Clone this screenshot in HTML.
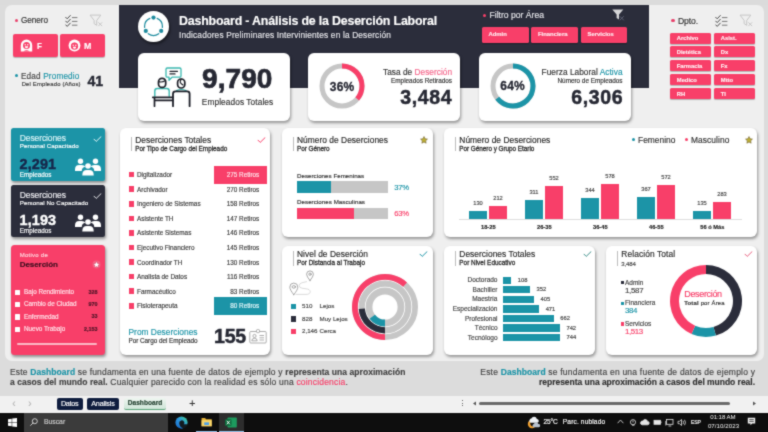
<!DOCTYPE html>
<html lang="es">
<head>
<meta charset="utf-8">
<title>Dashboard</title>
<style>
*{box-sizing:border-box;margin:0;padding:0}
html,body{width:768px;height:432px;overflow:hidden;background:#dcdcdc}
body{font-family:"Liberation Sans",sans-serif;color:#333;position:relative;font-size:7px;line-height:1}
.a{position:absolute;white-space:nowrap}
.t{-webkit-text-stroke:.15px}
body{filter:url(#sb)}
.card{position:absolute;background:#fff;border-radius:6px;box-shadow:1px 2px 3px rgba(0,0,0,.38)}
.teal{color:#1c94a7}
.pink{color:#f83f69}
b{font-weight:bold}
.fb{letter-spacing:.06px}
</style>
</head>
<body>
<svg width="0" height="0" style="position:absolute"><filter id="sb" x="0" y="0" width="100%" height="100%" color-interpolation-filters="sRGB"><feConvolveMatrix order="3" kernelMatrix="1 3 1 3 16 3 1 3 1" divisor="32" edgeMode="duplicate" preserveAlpha="true"/></filter></svg>
<div class="a" style="left:0px;top:0px;width:768px;height:5px;background:#dbdbdb;"></div>
<div class="a" style="left:5px;top:4.8px;width:758.5px;height:355.9px;background:#efefef;border-radius:7px"></div>
<div class="a" style="left:119px;top:4.7px;width:530px;height:83px;background:#2b2d3b;"></div>
<div class="a" style="left:14.5px;top:19px;width:3.4px;height:3.4px;background:#e8416b;border-radius:50%"></div>
<svg class="a" style="left:65px;top:15px" width="13" height="12" viewBox="0 0 13 12" fill="none" stroke-linecap="round" stroke-linejoin="round"><path d="M.7 2.300l1.500 1.500L5.300.5M.7 6.100l1.500 1.500L5.300 4.300M.7 9.900l1.500 1.500L5.300 8.100" stroke="#4a4a4a" stroke-width="1"/><path d="M7.300 2.600h4.700M7.300 6.400h4.700M7.300 10.200h4.700" stroke="#6a6a6a" stroke-width=".9"/></svg>
<svg class="a" style="left:89px;top:14px" width="15" height="14" viewBox="0 0 14 13" fill="none" stroke="#c4c4c4" stroke-width="0.9" stroke-linejoin="round"><path d="M1 1h10L7.2 6v4.5L4.8 9V6z"/><path d="M9 8l3 3M12 8l-3 3" stroke-linecap="round"/></svg>
<div class="a" style="left:12.5px;top:34.2px;width:45px;height:22.4px;background:#f83f69;border-radius:2px;box-shadow:0 1px 1px rgba(0,0,0,.25)"></div>
<div class="a" style="left:60px;top:34.2px;width:45px;height:22.4px;background:#f83f69;border-radius:2px;box-shadow:0 1px 1px rgba(0,0,0,.25)"></div>
<svg class="a" style="left:20.3px;top:38.6px" width="13" height="13" viewBox="0 0 13 13"><path d="M.8 12.600V6.200a5.700 5.700 0 0 1 11.400 0v6.400z" fill="#fff"/><circle cx="6.500" cy="6.600" r="3.500" fill="#f83f69"/><circle cx="5.200" cy="5.800" r=".7" fill="#fff"/><circle cx="7.800" cy="5.800" r=".7" fill="#fff"/><path d="M4.800 7.300h3.400q0 2-1.700 2t-1.700-2z" fill="#fff"/><path d="M3.300 12.600q3.200-2.600 6.400 0z" fill="#f83f69"/></svg>
<svg class="a" style="left:68px;top:38.6px" width="13" height="13" viewBox="0 0 13 13"><circle cx="6.500" cy="6.500" r="5.900" fill="#fff"/><circle cx="6.500" cy="7.200" r="3.600" fill="#f83f69"/><path d="M2.800 5.400q3.700-3.400 7.400 0q-3.700-1-7.400 0z" fill="#f83f69"/><circle cx="5.200" cy="6.300" r=".7" fill="#fff"/><circle cx="7.800" cy="6.300" r=".7" fill="#fff"/><path d="M4.800 7.800h3.400q0 2-1.700 2t-1.700-2z" fill="#fff"/></svg>
<div class="a" style="left:14.5px;top:74px;width:3.4px;height:3.4px;background:#1c94a7;border-radius:50%"></div>
<div class="a" style="left:137.8px;top:10.8px;width:30.8px;height:30.8px;background:#fff;border-radius:50%;box-shadow:1px 2px 3px rgba(0,0,0,.5)"></div>
<svg class="a" style="left:141.5px;top:15px" width="23" height="23" viewBox="0 0 23 23" fill="none" stroke="#1f8c9f" stroke-width="1.2" stroke-linecap="round"><path d="M15.12 3.37A8.9 8.9 0 0 1 20.35 12.43M16.73 18.70A8.9 8.9 0 0 1 6.27 18.70M2.65 12.43A8.9 8.9 0 0 1 7.88 3.37"/><circle cx="11.50" cy="2.60" r="2.1" fill="#1f8c9f" stroke="none"/><circle cx="19.21" cy="15.95" r="2.1" fill="#1f8c9f" stroke="none"/><circle cx="3.79" cy="15.95" r="2.1" fill="#1f8c9f" stroke="none"/></svg>
<div class="a" style="left:482.5px;top:14px;width:3.4px;height:3.4px;background:#f83f69;border-radius:50%"></div>
<svg class="a" style="left:612px;top:8.5px" width="13" height="12" viewBox="0 0 13 12"><path d="M.3.600h11L7 5.600v5L4.600 9v-3.400z" fill="#d6d6d8"/><path d="M8 7.500l3.500 3.500M11.500 7.500L8 11" stroke="#5d6072" stroke-width="1" stroke-linecap="round"/></svg>
<div class="a" style="left:481.5px;top:27px;width:47px;height:15.5px;background:#f83f69;border-radius:1.5px;box-shadow:0 1px 1px rgba(0,0,0,.3)"></div>
<div class="a" style="left:531px;top:27px;width:46.5px;height:15.5px;background:#f83f69;border-radius:1.5px;box-shadow:0 1px 1px rgba(0,0,0,.3)"></div>
<div class="a" style="left:580.5px;top:27px;width:46.5px;height:15.5px;background:#f83f69;border-radius:1.5px;box-shadow:0 1px 1px rgba(0,0,0,.3)"></div>
<div class="card" style="left:138px;top:52.5px;width:151.5px;height:68px"></div>
<div class="card" style="left:308px;top:52.5px;width:152px;height:68px"></div>
<div class="card" style="left:479px;top:52.5px;width:151.5px;height:68px"></div>
<svg class="a" style="left:151px;top:65.5px" width="42" height="42" viewBox="0 0 42 42" fill="none" stroke-linejoin="round" stroke-linecap="round">
<path d="M16.200 2h12.600a1.200 1.200 0 0 1 1.200 1.200v6.800a1.200 1.200 0 0 1-1.200 1.200h-7.800l-3 3v-3h-1.800a1.200 1.200 0 0 1-1.200-1.200v-6.800a1.200 1.200 0 0 1 1.200-1.200z" stroke="#3bb8b0" stroke-width="1.300"/>
<path d="M19 5.300h7.500M19 7.900h5" stroke="#1d1f28" stroke-width="1.300"/>
<path d="M3.800 30.300v-5.300q0-2.500 2.500-2.500h9.400q2.500 0 2.500 2.500v5.300" stroke="#3bb8b0" stroke-width="1.400"/>
<rect x="7.500" y="12.300" width="7.200" height="9" rx="3.400" stroke="#1d1f28" stroke-width="1.700"/>
<path d="M7.600 15.700q3.600 1 7-1.200" stroke="#1d1f28" stroke-width="1.200"/>
<rect x="26.600" y="13" width="7.200" height="9" rx="3.400" stroke="#1d1f28" stroke-width="1.700"/>
<path d="M30.300 13.200q-2.800 3.600 1.600 5.700" stroke="#1d1f28" stroke-width="1.200"/>
<path d="M25.500 24.600q4.800-2.200 9.600 0" stroke="#3bb8b0" stroke-width="1.200"/>
<path d="M22 40.200v-12.400q0-2.500 2.500-2.500h11.600q2.500 0 2.500 2.500v12.400" stroke="#1d1f28" stroke-width="1.800"/>
<path d="M1.800 31.300h20M3.400 34.400h18.400M3.500 31.500v8.700" stroke="#1d1f28" stroke-width="1.700"/>
</svg>
<svg class="a" style="left:317px;top:60.8px" width="50" height="50" viewBox="-25 -25 50 50"><circle r="20" fill="none" stroke="#c6c6c6" stroke-width="5"/><circle r="20" fill="none" stroke="#f83f69" stroke-width="5" stroke-dasharray="45.24 400" transform="rotate(-90)"/></svg>
<svg class="a" style="left:487.5px;top:61.3px" width="50" height="50" viewBox="-25 -25 50 50"><circle r="20" fill="none" stroke="#c6c6c6" stroke-width="5"/><circle r="20" fill="none" stroke="#1c94a7" stroke-width="5" stroke-dasharray="80.42 400" transform="rotate(-90)"/></svg>
<div class="a" style="left:671.3px;top:19px;width:3.4px;height:3.4px;background:#e8416b;border-radius:50%"></div>
<svg class="a" style="left:715px;top:14.500px" width="13" height="12" viewBox="0 0 13 12" fill="none" stroke-linecap="round" stroke-linejoin="round"><path d="M.7 2.300l1.500 1.500L5.300.5M.7 6.100l1.500 1.500L5.300 4.300M.7 9.900l1.500 1.500L5.300 8.100" stroke="#4a4a4a" stroke-width="1"/><path d="M7.300 2.600h4.700M7.300 6.400h4.700M7.300 10.200h4.700" stroke="#6a6a6a" stroke-width=".9"/></svg>
<svg class="a" style="left:739px;top:13.500px" width="15" height="14" viewBox="0 0 14 13" fill="none" stroke="#c4c4c4" stroke-width="0.9" stroke-linejoin="round"><path d="M1 1h10L7.200 6v4.500L4.800 9V6z"/><path d="M9 8l3 3M12 8l-3 3" stroke-linecap="round"/></svg>
<div class="a" style="left:670px;top:32.5px;width:41px;height:11px;background:#f83f69;border-radius:1.5px;box-shadow:0 1px 1px rgba(0,0,0,.25)"></div>
<div class="a" style="left:714px;top:32.5px;width:41px;height:11px;background:#f83f69;border-radius:1.5px;box-shadow:0 1px 1px rgba(0,0,0,.25)"></div>
<div class="a" style="left:670px;top:46.4px;width:41px;height:11px;background:#f83f69;border-radius:1.5px;box-shadow:0 1px 1px rgba(0,0,0,.25)"></div>
<div class="a" style="left:714px;top:46.4px;width:41px;height:11px;background:#f83f69;border-radius:1.5px;box-shadow:0 1px 1px rgba(0,0,0,.25)"></div>
<div class="a" style="left:670px;top:60.3px;width:41px;height:11px;background:#f83f69;border-radius:1.5px;box-shadow:0 1px 1px rgba(0,0,0,.25)"></div>
<div class="a" style="left:714px;top:60.3px;width:41px;height:11px;background:#f83f69;border-radius:1.5px;box-shadow:0 1px 1px rgba(0,0,0,.25)"></div>
<div class="a" style="left:670px;top:74.2px;width:41px;height:11px;background:#f83f69;border-radius:1.5px;box-shadow:0 1px 1px rgba(0,0,0,.25)"></div>
<div class="a" style="left:714px;top:74.2px;width:41px;height:11px;background:#f83f69;border-radius:1.5px;box-shadow:0 1px 1px rgba(0,0,0,.25)"></div>
<div class="a" style="left:670px;top:88.1px;width:41px;height:11px;background:#f83f69;border-radius:1.5px;box-shadow:0 1px 1px rgba(0,0,0,.25)"></div>
<div class="a" style="left:714px;top:88.1px;width:41px;height:11px;background:#f83f69;border-radius:1.5px;box-shadow:0 1px 1px rgba(0,0,0,.25)"></div>
<div class="a" style="left:11px;top:128.2px;width:94.3px;height:52.5px;background:#1c94a7;border-radius:2.5px;box-shadow:1px 2px 3px rgba(0,0,0,.4)"></div>
<svg class="a" style="left:92.5px;top:136.3px" width="9" height="6" viewBox="0 0 9 6" fill="none" stroke="#e4f6f8" stroke-width="1" stroke-linecap="round" stroke-linejoin="round"><path d="M1 3.200l2.200 2.200L8 .7"/></svg>
<svg class="a" style="left:73.5px;top:157.5px" width="28" height="18" viewBox="0 0 28 18" fill="#fff"><circle cx="6.500" cy="3.300" r="2.700"/><path d="M1 11.300q0-4.300 4.300-4.300h2.400q2.600 0 3.600 1.600q-3.300 1-3.600 4.400h-6.700z"/><circle cx="21.500" cy="3.300" r="2.700"/><path d="M27 11.300q0-4.300-4.300-4.300h-2.400q-2.600 0-3.600 1.600q3.300 1 3.600 4.400h6.700z"/><circle cx="14" cy="8" r="2.800"/><path d="M8.300 17q0-5 4.500-5h2.400q4.500 0 4.500 5v.500h-11.400z"/></svg>
<div class="a" style="left:11px;top:185.1px;width:94.3px;height:52.2px;background:#2b2d3b;border-radius:2.5px;box-shadow:1px 2px 3px rgba(0,0,0,.4)"></div>
<svg class="a" style="left:92.5px;top:193.2px" width="9" height="6" viewBox="0 0 9 6" fill="none" stroke="#e8e8ec" stroke-width="1" stroke-linecap="round" stroke-linejoin="round"><path d="M1 3.200l2.200 2.200L8 .7"/></svg>
<svg class="a" style="left:73.5px;top:214.4px" width="28" height="18" viewBox="0 0 28 18" fill="#fff"><circle cx="6.500" cy="3.300" r="2.700"/><path d="M1 11.300q0-4.300 4.300-4.300h2.400q2.600 0 3.600 1.600q-3.300 1-3.600 4.400h-6.700z"/><circle cx="21.500" cy="3.300" r="2.700"/><path d="M27 11.300q0-4.300-4.300-4.300h-2.400q-2.600 0-3.600 1.600q3.300 1 3.600 4.400h6.700z"/><circle cx="14" cy="8" r="2.800"/><path d="M8.300 17q0-5 4.500-5h2.400q4.500 0 4.500 5v.500h-11.400z"/></svg>
<div class="a" style="left:11px;top:245px;width:94.3px;height:109.5px;background:#f83f69;border-radius:3.5px;box-shadow:1px 2px 3px rgba(0,0,0,.4)"></div>
<svg class="a" style="left:92.3px;top:259.700px" width="9" height="9" viewBox="0 0 9 9"><circle cx="4.500" cy="4.500" r="4" fill="#fa5f81"/><path d="M4.500 1.300l1 2.100 2.300.3-1.700 1.600.4 2.300-2-1.100-2 1.100.4-2.300-1.700-1.600 2.300-.3z" fill="#fff" stroke="#c23a5c" stroke-width=".45"/></svg>
<div class="a" style="left:15px;top:289.59999999999997px;width:5.2px;height:5.2px;background:#fff;border-radius:.5px"></div>
<div class="a" style="left:15px;top:301.99999999999994px;width:5.2px;height:5.2px;background:#fff;border-radius:.5px"></div>
<div class="a" style="left:15px;top:314.4px;width:5.2px;height:5.2px;background:#fff;border-radius:.5px"></div>
<div class="a" style="left:15px;top:326.79999999999995px;width:5.2px;height:5.2px;background:#fff;border-radius:.5px"></div>
<div class="a" style="left:17px;top:343.4px;width:80px;height:2.1px;background:#fbb9c6;border-radius:1px"></div>
<div class="card" style="left:119.5px;top:128px;width:150.5px;height:226.5px"></div>
<div class="card" style="left:282px;top:128px;width:150.5px;height:109px"></div>
<div class="card" style="left:443.5px;top:128px;width:313px;height:109px"></div>
<div class="card" style="left:282px;top:245.5px;width:150.5px;height:109px"></div>
<div class="card" style="left:443.5px;top:245.5px;width:151.5px;height:109px"></div>
<div class="card" style="left:605.5px;top:245.5px;width:151px;height:109px"></div>
<div class="a" style="left:130.7px;top:136.8px;width:1.5px;height:14.6px;background:#bcbcbc;"></div>
<svg class="a" style="left:256.5px;top:136.5px" width="9" height="6" viewBox="0 0 9 6" fill="none" stroke="#f83f69" stroke-width="1" stroke-linecap="round" stroke-linejoin="round"><path d="M1 3.200l2.200 2.200L8 .7"/></svg>
<div class="a" style="left:214px;top:166px;width:53px;height:17.5px;background:#f83f69;"></div>
<div class="a" style="left:214px;top:297px;width:53px;height:17.5px;background:#1c94a7;"></div>
<div class="a" style="left:128.8px;top:171.79999999999998px;width:5.6px;height:5.6px;background:#f83f69;"></div>
<div class="a" style="left:128.8px;top:186.38px;width:5.6px;height:5.6px;background:#f83f69;"></div>
<div class="a" style="left:128.8px;top:200.95999999999998px;width:5.6px;height:5.6px;background:#f83f69;"></div>
<div class="a" style="left:128.8px;top:215.54px;width:5.6px;height:5.6px;background:#f83f69;"></div>
<div class="a" style="left:128.8px;top:230.11999999999998px;width:5.6px;height:5.6px;background:#f83f69;"></div>
<div class="a" style="left:128.8px;top:244.7px;width:5.6px;height:5.6px;background:#f83f69;"></div>
<div class="a" style="left:128.8px;top:259.28px;width:5.6px;height:5.6px;background:#f83f69;"></div>
<div class="a" style="left:128.8px;top:273.85999999999996px;width:5.6px;height:5.6px;background:#f83f69;"></div>
<div class="a" style="left:128.8px;top:288.44px;width:5.6px;height:5.6px;background:#f83f69;"></div>
<div class="a" style="left:128.8px;top:303.02px;width:5.6px;height:5.6px;background:#f83f69;"></div>
<svg class="a" style="left:249px;top:329px" width="18" height="15" viewBox="0 0 18 15" fill="none" stroke="#999" stroke-width=".8"><rect x=".8" y="2.500" width="16.400" height="11.500" rx="1"/><rect x="7.500" y=".6" width="3" height="3" rx=".8" fill="#fff"/><circle cx="5.500" cy="7" r="1.600"/><path d="M2.800 11.800q0-2.500 2.700-2.500t2.700 2.500zM10.500 6.500h4.500M10.500 8.800h4.500M10.500 11h4.500"/></svg>
<div class="a" style="left:292.5px;top:136.8px;width:1.5px;height:14.6px;background:#bcbcbc;"></div>
<svg class="a" style="left:419.500px;top:135.800px" width="8" height="8" viewBox="0 0 9 9"><path d="M4.500 .6l1.200 2.500 2.700.4-2 1.900.5 2.700-2.400-1.300-2.400 1.300.5-2.700-2-1.900 2.700-.4z" fill="#bcae32" stroke="#77683c" stroke-width=".7"/></svg>
<div class="a" style="left:297.2px;top:181.2px;width:90.8px;height:11.4px;background:#c6c6c6;"></div>
<div class="a" style="left:297.2px;top:181.2px;width:34px;height:11.4px;background:#1c94a7;"></div>
<div class="a" style="left:297.2px;top:207.8px;width:90.8px;height:11.4px;background:#c6c6c6;"></div>
<div class="a" style="left:297.2px;top:207.8px;width:57.3px;height:11.4px;background:#f83f69;"></div>
<div class="a" style="left:454.8px;top:136.8px;width:1.5px;height:14.6px;background:#bcbcbc;"></div>
<div class="a" style="left:631.8px;top:138.3px;width:3px;height:3px;background:#1c94a7;border-radius:50%"></div>
<div class="a" style="left:685px;top:138.3px;width:3px;height:3px;background:#f83f69;border-radius:50%"></div>
<svg class="a" style="left:744.500px;top:135.800px" width="8" height="8" viewBox="0 0 9 9"><path d="M4.500 .6l1.200 2.500 2.700.4-2 1.900.5 2.700-2.400-1.300-2.400 1.300.5-2.700-2-1.900 2.700-.4z" fill="#bcae32" stroke="#77683c" stroke-width=".7"/></svg>
<div class="a" style="left:459px;top:218.7px;width:283px;height:0.6px;background:#dedede;"></div>
<div class="a" style="left:469px;top:211.03900000000002px;width:18px;height:7.761px;background:#1c94a7;"></div>
<div class="a" style="left:489px;top:206.14360000000002px;width:18px;height:12.656400000000001px;background:#f83f69;"></div>
<div class="a" style="left:525px;top:200.2333px;width:18px;height:18.5667px;background:#1c94a7;"></div>
<div class="a" style="left:545px;top:185.84560000000002px;width:18px;height:32.9544px;background:#f83f69;"></div>
<div class="a" style="left:581px;top:198.2632px;width:18px;height:20.5368px;background:#1c94a7;"></div>
<div class="a" style="left:601px;top:184.29340000000002px;width:18px;height:34.5066px;background:#f83f69;"></div>
<div class="a" style="left:637px;top:196.89010000000002px;width:18px;height:21.9099px;background:#1c94a7;"></div>
<div class="a" style="left:657px;top:184.6516px;width:18px;height:34.1484px;background:#f83f69;"></div>
<div class="a" style="left:693px;top:210.7405px;width:18px;height:8.0595px;background:#1c94a7;"></div>
<div class="a" style="left:713px;top:201.9049px;width:18px;height:16.8951px;background:#f83f69;"></div>
<div class="a" style="left:292.5px;top:251.0px;width:1.5px;height:14.6px;background:#bcbcbc;"></div>
<svg class="a" style="left:419px;top:251px" width="9" height="6" viewBox="0 0 9 6" fill="none" stroke="#1c94a7" stroke-width="1" stroke-linecap="round" stroke-linejoin="round"><path d="M1 3.200l2.200 2.200L8 .7"/></svg>
<svg class="a" style="left:288px;top:268px" width="28" height="28" viewBox="0 0 28 28" fill="none" stroke="#8c8c8c" stroke-width=".75" stroke-linecap="round"><path d="M22 12.600q-3.400-4.300-3.400-6.300a3.400 3.400 0 0 1 6.800 0q0 2-3.400 6.300z"/><circle cx="22" cy="6.200" r="1.200"/><path d="M5.800 26.700q-4-5-4-7.600a4 4 0 0 1 8 0q0 2.600-4 7.600z"/><ellipse cx="5.800" cy="18.900" rx="1.700" ry="1.300"/><path d="M8 26.400h10q4.200 0 4.200-2.600t-4.200-3l-4-.6q-2.800-.5-2.800-2.600t2.800-2.900l4.600-1" stroke="#cfcfcf"/></svg>
<svg class="a" style="left:350px;top:272px" width="70" height="70" viewBox="350 272 70 70"><circle cx="385" cy="307" r="30.1" fill="none" stroke="#c6c6c6" stroke-width="5.8"/><path d="M385.00 340.00A33 33 0 1 1 407.00 282.40L403.13 286.72A27.2 27.2 0 1 0 385.00 334.20Z" fill="#f83f69"/><circle cx="385" cy="307" r="23.3" fill="none" stroke="#c6c6c6" stroke-width="6.2"/><path d="M385.00 333.40A26.4 26.4 0 0 1 358.68 309.03L364.86 308.55A20.2 20.2 0 0 0 385.00 327.20Z" fill="#2b2d3b"/><circle cx="385" cy="307" r="16" fill="none" stroke="#c6c6c6" stroke-width="6.8"/><path d="M385.00 326.40A19.4 19.4 0 0 1 369.57 318.76L374.98 314.64A12.6 12.6 0 0 0 385.00 319.60Z" fill="#1c94a7"/></svg>
<div class="a" style="left:291px;top:303.8px;width:5.4px;height:5.4px;background:#1c94a7;"></div>
<div class="a" style="left:291px;top:316.3px;width:5.4px;height:5.4px;background:#2b2d3b;"></div>
<div class="a" style="left:291px;top:328.8px;width:5.4px;height:5.4px;background:#f83f69;"></div>
<div class="a" style="left:454.8px;top:251.0px;width:1.5px;height:14.6px;background:#bcbcbc;"></div>
<svg class="a" style="left:582.5px;top:251px" width="9" height="6" viewBox="0 0 9 6" fill="none" stroke="#3d8f8a" stroke-width="1" stroke-linecap="round" stroke-linejoin="round"><path d="M1 3.200l2.200 2.200L8 .7"/></svg>
<div class="a" style="left:503.2px;top:276.5px;width:8.2836px;height:7.4px;background:#1c94a7;"></div>
<div class="a" style="left:503.2px;top:286.06px;width:26.9984px;height:7.4px;background:#1c94a7;"></div>
<div class="a" style="left:503.2px;top:295.62px;width:31.0635px;height:7.4px;background:#1c94a7;"></div>
<div class="a" style="left:503.2px;top:305.18px;width:36.1257px;height:7.4px;background:#1c94a7;"></div>
<div class="a" style="left:503.2px;top:314.74px;width:50.775400000000005px;height:7.4px;background:#1c94a7;"></div>
<div class="a" style="left:503.2px;top:324.3px;width:56.9114px;height:7.4px;background:#1c94a7;"></div>
<div class="a" style="left:503.2px;top:333.86px;width:57.064800000000005px;height:7.4px;background:#1c94a7;"></div>
<div class="a" style="left:616.8px;top:251.0px;width:1.5px;height:14.6px;background:#bcbcbc;"></div>
<svg class="a" style="left:744px;top:251px" width="9" height="6" viewBox="0 0 9 6" fill="none" stroke="#e8607f" stroke-width="1" stroke-linecap="round" stroke-linejoin="round"><path d="M1 3.200l2.200 2.200L8 .7"/></svg>
<svg class="a" style="left:668px;top:263.3px" width="76" height="76" viewBox="668 263.3 76 76"><path d="M706.00 265.30A36 36 0 0 1 715.92 335.91L713.44 327.25A27 27 0 0 0 706.00 274.30Z" fill="#2b2d3b"/><path d="M715.92 335.91A36 36 0 0 1 691.53 334.26L695.15 326.02A27 27 0 0 0 713.44 327.25Z" fill="#1c94a7"/><path d="M691.53 334.26A36 36 0 0 1 706.00 265.30L706.00 274.30A27 27 0 0 0 695.15 326.02Z" fill="#f83f69"/></svg>
<div class="a" style="left:620.5px;top:280.8px;width:3.5px;height:3.5px;background:#2b2d3b;"></div>
<div class="a" style="left:620.5px;top:301.5px;width:3.5px;height:3.5px;background:#1c94a7;"></div>
<div class="a" style="left:620.5px;top:322.2px;width:3.5px;height:3.5px;background:#f83f69;"></div>
<div class="a" style="left:0px;top:395.6px;width:768px;height:17px;background:#f1f1f1;"></div>
<div class="a" style="left:56.5px;top:398px;width:26.5px;height:11.5px;background:#0f1d3e;border-radius:2px"></div>
<div class="a" style="left:87px;top:398px;width:32px;height:11.5px;background:#0f1d3e;border-radius:2px"></div>
<div class="a" style="left:124px;top:397.5px;width:42px;height:12.5px;background:linear-gradient(#eef5f0,#cfe5d8);border-radius:2px;border-bottom:1.200px solid #5aa57a"></div>
<div class="a" style="left:461.5px;top:400px;width:1px;height:1px;background:#666;"></div>
<div class="a" style="left:461.5px;top:402.5px;width:1px;height:1px;background:#666;"></div>
<div class="a" style="left:461.5px;top:405px;width:1px;height:1px;background:#666;"></div>
<svg class="a" style="left:472px;top:400.500px" width="5" height="5" viewBox="0 0 5 5"><path d="M4 .5v4L1 2.500z" fill="#555"/></svg>
<div class="a" style="left:479px;top:401.5px;width:250.5px;height:3.2px;background:#6b6b6b;border-radius:2px"></div>
<svg class="a" style="left:752px;top:400.500px" width="5" height="5" viewBox="0 0 5 5"><path d="M1 .5v4L4 2.500z" fill="#555"/></svg>
<div class="a" style="left:0px;top:412.8px;width:768px;height:20px;background:#0e0e0e;"></div>
<div class="a" style="left:24px;top:412.8px;width:144px;height:20px;background:#3b3b3b;"></div>
<svg class="a" style="left:7.500px;top:417.500px" width="9" height="9" viewBox="0 0 9 9" fill="#fff"><path d="M0 1.200l3.700-.5v3.500H0zM4.200.6L9 0v4.200H4.200zM0 4.800h3.700v3.500L0 7.800zM4.200 4.800H9V9l-4.800-.6z"/></svg>
<svg class="a" style="left:29.500px;top:417.500px" width="8" height="8" viewBox="0 0 8 8" fill="none" stroke="#ddd" stroke-width=".9"><circle cx="4.800" cy="3.200" r="2.500"/><path d="M3 5L.6 7.400" stroke-linecap="round"/></svg>
<svg class="a" style="left:175px;top:415.500px" width="13" height="13" viewBox="0 0 13 13"><defs><linearGradient id="eg" x1="0" y1="1" x2="1" y2="0"><stop offset="0" stop-color="#1b6fd0"/><stop offset=".5" stop-color="#2a93dc"/><stop offset="1" stop-color="#45d98c"/></linearGradient></defs><circle cx="6.500" cy="6.500" r="6.100" fill="url(#eg)"/><path d="M4.200 7.200a2.600 2.600 0 0 1 5 -1.200q.6 1.400 -.4 2.200h4v1.500q-1.500 2.400 -4.300 2.600q-3.800 -.8 -4.300 -5.100z" fill="#101010" opacity=".92"/><path d="M2.600 8.200a4 4 0 0 0 5.600 3.900q-4.300 .2-5.600-3.900z" fill="#165fb8"/></svg>
<svg class="a" style="left:200.600px;top:417px" width="11.300" height="9.800" viewBox="0 0 12 11"><path d="M.3 1.200h4l1 1.200h6.400v8H.3z" fill="#e9b53a"/><path d="M.3 3.600h11.400v6.800H.3z" fill="#f7d56b"/><rect x="3.300" y="6" width="5.400" height="3" fill="#4da0e6"/></svg>
<div class="a" style="left:196px;top:430.7px;width:21px;height:1.3px;background:#9ec4ea;"></div>
<div class="a" style="left:219px;top:412.8px;width:24.5px;height:20px;background:#2d2d2d;"></div>
<svg class="a" style="left:225px;top:416.500px" width="12" height="11" viewBox="0 0 12 11"><rect x="2.500" y=".5" width="9.300" height="10" rx=".8" fill="#1d9b5e"/><rect x="0" y="2.300" width="6.500" height="6.500" rx=".6" fill="#0e6b3d"/><path d="M1.800 3.800l3 3.500M4.800 3.800l-3 3.500" stroke="#fff" stroke-width=".9"/></svg>
<div class="a" style="left:219px;top:430.7px;width:24.5px;height:1.3px;background:#9ec4ea;"></div>
<svg class="a" style="left:526.500px;top:414.500px" width="14" height="14" viewBox="0 0 14 14"><circle cx="5" cy="9" r="4.200" fill="#f0a030"/><circle cx="6.800" cy="8" r="3.600" fill="#101010"/><path d="M2.500 6.600a2.200 2.200 0 0 1 1.800-3 3 3 0 0 1 5.600.3 2 2 0 0 1 .5 3.900H3.500a1.500 1.500 0 0 1-1-1.200z" fill="#eef2f6"/><path d="M6.600 12.300a1.800 1.800 0 0 1 .3-3.400 2.400 2.400 0 0 1 4.500.2 1.600 1.600 0 0 1 .3 3.200z" fill="#b9c3cf"/></svg>
<svg class="a" style="left:617px;top:419px" width="7" height="5" viewBox="0 0 7 5" fill="none" stroke="#eee" stroke-width=".8"><path d="M.6 4.200L3.500 1l2.900 3.200"/></svg>
<svg class="a" style="left:629px;top:417.500px" width="60" height="9" viewBox="0 0 60 9" fill="none" stroke="#e6e6e6" stroke-width=".8"><circle cx="4" cy="4.200" r="2.600"/><path d="M4 2.500v2M3 7.200h2.500" /><path d="M13 6.800h5.500a1.700 1.700 0 0 0 0-3.400 2.400 2.400 0 0 0-4.600-.3A1.900 1.900 0 0 0 13 6.800z" fill="#e6e6e6"/><rect x="25" y="2.300" width="6.500" height="4" fill="#e6e6e6"/><path d="M32 3.500v1.600"/><rect x="37.500" y="1.500" width="6.500" height="4.800"/><path d="M39.500 8h2.800M36.800 3v4.500"/><path d="M49 3.300h1.500l2-1.800v6l-2-1.800H49zM54 2.800q1.200 1.700 0 3.400M55.500 1.800q2 2.700 0 5.400" /></svg>
<svg class="a" style="left:747px;top:417px" width="9" height="9" viewBox="0 0 9 9"><path d="M.8.800h7.400v5.800H5.200L3.500 8.200V6.600H.8z" fill="#eee"/><path d="M2.200 2.600h4.600M2.200 4.400h4.600" stroke="#111" stroke-width=".7"/></svg>
<div class="a t" style="top:17.06px;font-size:8.2px;color:#333;letter-spacing:-0.052px;left:21px;">Genero</div>
<div class="a t" style="top:40.50px;font-size:9.8px;color:#fff;font-weight:bold;left:37px;transform:scaleX(.82);transform-origin:0 0;">F</div>
<div class="a t" style="top:40.50px;font-size:9.8px;color:#fff;font-weight:bold;left:84.2px;transform:scaleX(.9);transform-origin:0 0;">M</div>
<div class="a t" style="top:72.56px;font-size:8.2px;color:#444;letter-spacing:0.157px;left:21px;">Edad <span class="teal">Promedio</span></div>
<div class="a t" style="top:82.21px;font-size:5.9px;color:#3a3a3a;letter-spacing:0.158px;left:21.7px;">Del Empleado (Años)</div>
<div class="a t" style="top:74.18px;font-size:14.2px;color:#262833;font-weight:bold;letter-spacing:-0.141px;left:87.5px;-webkit-text-stroke:.35px;">41</div>
<div class="a t" style="top:14.70px;font-size:12.4px;color:#fff;font-weight:bold;letter-spacing:-0.183px;left:179px;">Dashboard - Análisis de la Deserción Laboral</div>
<div class="a t" style="top:30.67px;font-size:8.3px;color:#e6e6ea;letter-spacing:0.165px;left:179px;">Indicadores Preliminares Intervinientes en la Deserción</div>
<div class="a t" style="top:11.32px;font-size:8.6px;color:#e6e6ea;letter-spacing:0.003px;left:489.5px;">Filtro por Área</div>
<div class="a t" style="top:32.41px;font-size:5.9px;color:#ffe9ee;font-weight:bold;left:488.5px;">Admin</div>
<div class="a t" style="top:32.41px;font-size:5.9px;color:#ffe9ee;font-weight:bold;left:538px;">Financiera</div>
<div class="a t" style="top:32.41px;font-size:5.9px;color:#ffe9ee;font-weight:bold;left:587.5px;">Servicios</div>
<div class="a t" style="top:65.10px;font-size:28px;color:#262833;font-weight:bold;letter-spacing:0.084px;left:202px;-webkit-text-stroke:.7px;">9,790</div>
<div class="a t" style="top:98.27px;font-size:8.3px;color:#333;letter-spacing:0.091px;left:201.8px;">Empleados Totales</div>
<div class="a t" style="top:81.04px;font-size:12px;color:#262833;font-weight:bold;letter-spacing:0.156px;left:192.08px;width:300px;text-align:center;-webkit-text-stroke:.3px;">36%</div>
<div class="a t" style="top:68.07px;font-size:8.3px;color:#333;letter-spacing:0.016px;right:315.98px;">Tasa de <span style="color:#f4658a">Deserción</span></div>
<div class="a t" style="top:77.98px;font-size:6.4px;color:#333;letter-spacing:-0.006px;right:316.01px;">Empleados Retirados</div>
<div class="a t" style="top:87.59px;font-size:19.5px;color:#262833;font-weight:bold;letter-spacing:0.637px;right:315.86px;-webkit-text-stroke:.5px;">3,484</div>
<div class="a t" style="top:80.24px;font-size:12px;color:#262833;font-weight:bold;letter-spacing:0.156px;left:362.58px;width:300px;text-align:center;-webkit-text-stroke:.3px;">64%</div>
<div class="a t" style="top:68.07px;font-size:8.3px;color:#333;letter-spacing:0.036px;right:145.46px;">Fuerza Laboral <span class="teal">Activa</span></div>
<div class="a t" style="top:77.98px;font-size:6.4px;color:#333;letter-spacing:-0.020px;right:145.52px;">Número de Empleados</div>
<div class="a t" style="top:87.59px;font-size:19.5px;color:#262833;font-weight:bold;letter-spacing:0.637px;right:144.86px;-webkit-text-stroke:.5px;">6,306</div>
<div class="a t" style="top:16.52px;font-size:8.6px;color:#333;letter-spacing:-0.109px;left:678px;">Dpto.</div>
<div class="a t" style="top:36.29px;font-size:5.8px;color:#fff0f3;font-weight:bold;left:676.8px;">Archivo</div>
<div class="a t" style="top:36.29px;font-size:5.8px;color:#fff0f3;font-weight:bold;left:720.8px;">Asist.</div>
<div class="a t" style="top:50.19px;font-size:5.8px;color:#fff0f3;font-weight:bold;left:676.8px;">Dietética</div>
<div class="a t" style="top:50.19px;font-size:5.8px;color:#fff0f3;font-weight:bold;left:720.8px;">Dx</div>
<div class="a t" style="top:64.09px;font-size:5.8px;color:#fff0f3;font-weight:bold;left:676.8px;">Farmacia</div>
<div class="a t" style="top:64.09px;font-size:5.8px;color:#fff0f3;font-weight:bold;left:720.8px;">Fx</div>
<div class="a t" style="top:77.99px;font-size:5.8px;color:#fff0f3;font-weight:bold;left:676.8px;">Medico</div>
<div class="a t" style="top:77.99px;font-size:5.8px;color:#fff0f3;font-weight:bold;left:720.8px;">Mtto</div>
<div class="a t" style="top:91.89px;font-size:5.8px;color:#fff0f3;font-weight:bold;left:676.8px;">RH</div>
<div class="a t" style="top:91.89px;font-size:5.8px;color:#fff0f3;font-weight:bold;left:720.8px;">TI</div>
<div class="a t" style="top:134.40px;font-size:8.5px;color:#d9f3f6;letter-spacing:-0.114px;left:19.8px;">Deserciones</div>
<div class="a t" style="top:143.25px;font-size:6.2px;color:#fff;letter-spacing:0.081px;left:19.8px;">Personal Capacitado</div>
<div class="a t" style="top:156.51px;font-size:14.4px;color:#16264a;font-weight:bold;letter-spacing:0.097px;left:19.6px;-webkit-text-stroke:.4px;">2,291</div>
<div class="a t" style="top:171.57px;font-size:6.3px;color:#fff;letter-spacing:-0.002px;left:19.8px;">Empleados</div>
<div class="a t" style="top:191.30px;font-size:8.5px;color:#ececf0;letter-spacing:-0.114px;left:19.8px;">Deserciones</div>
<div class="a t" style="top:200.15px;font-size:6.2px;color:#fff;letter-spacing:0.065px;left:19.8px;">Personal No Capacitado</div>
<div class="a t" style="top:213.41px;font-size:14.4px;color:#fff;font-weight:bold;letter-spacing:0.097px;left:19.6px;-webkit-text-stroke:.4px;">1,193</div>
<div class="a t" style="top:228.47px;font-size:6.3px;color:#fff;letter-spacing:-0.002px;left:19.8px;">Empleados</div>
<div class="a t" style="top:252.32px;font-size:6px;color:#ffd3dc;letter-spacing:0.243px;left:19.8px;">Motivo de</div>
<div class="a t" style="top:260.73px;font-size:8px;color:#3d0f1f;font-weight:bold;letter-spacing:-0.076px;left:19.8px;">Deserción</div>
<div class="a t" style="top:289.02px;font-size:6.35px;color:#ffe3e9;left:24px;">Bajo Rendimiento</div>
<div class="a t" style="top:289.53px;font-size:5.4px;color:#4a1426;font-weight:bold;right:670.50px;">328</div>
<div class="a t" style="top:301.42px;font-size:6.35px;color:#ffe3e9;left:24px;">Cambio de Ciudad</div>
<div class="a t" style="top:301.93px;font-size:5.4px;color:#4a1426;font-weight:bold;right:670.50px;">970</div>
<div class="a t" style="top:313.82px;font-size:6.35px;color:#ffe3e9;left:24px;">Enfermedad</div>
<div class="a t" style="top:314.33px;font-size:5.4px;color:#4a1426;font-weight:bold;right:670.50px;">33</div>
<div class="a t" style="top:326.22px;font-size:6.35px;color:#ffe3e9;left:24px;">Nuevo Trabajo</div>
<div class="a t" style="top:326.73px;font-size:5.4px;color:#4a1426;font-weight:bold;right:670.50px;">2,153</div>
<div class="a t" style="top:135.89px;font-size:8.4px;color:#2a2a2a;letter-spacing:0.039px;left:135.2px;">Deserciones Totales</div>
<div class="a t" style="top:146.08px;font-size:6.4px;color:#2e2e2e;letter-spacing:-0.024px;left:135.2px;-webkit-text-stroke:.28px;">Por Tipo de Cargo del Empleado</div>
<div class="a t" style="top:172.08px;font-size:6.4px;color:#3c3c3c;left:137px;">Digitalizador</div>
<div class="a t" style="top:172.08px;font-size:6.4px;color:#ffe3ea;right:508.70px;">275 Retiros</div>
<div class="a t" style="top:186.66px;font-size:6.4px;color:#3c3c3c;left:137px;">Archivador</div>
<div class="a t" style="top:186.66px;font-size:6.4px;color:#3c3c3c;right:508.70px;">270 Retiros</div>
<div class="a t" style="top:201.24px;font-size:6.4px;color:#3c3c3c;left:137px;">Ingeniero de Sistemas</div>
<div class="a t" style="top:201.24px;font-size:6.4px;color:#3c3c3c;right:508.70px;">158 Retiros</div>
<div class="a t" style="top:215.82px;font-size:6.4px;color:#3c3c3c;left:137px;">Asistente TH</div>
<div class="a t" style="top:215.82px;font-size:6.4px;color:#3c3c3c;right:508.70px;">147 Retiros</div>
<div class="a t" style="top:230.40px;font-size:6.4px;color:#3c3c3c;left:137px;">Asistente Sistemas</div>
<div class="a t" style="top:230.40px;font-size:6.4px;color:#3c3c3c;right:508.70px;">146 Retiros</div>
<div class="a t" style="top:244.98px;font-size:6.4px;color:#3c3c3c;left:137px;">Ejecutivo Financiero</div>
<div class="a t" style="top:244.98px;font-size:6.4px;color:#3c3c3c;right:508.70px;">145 Retiros</div>
<div class="a t" style="top:259.56px;font-size:6.4px;color:#3c3c3c;left:137px;">Coordinador TH</div>
<div class="a t" style="top:259.56px;font-size:6.4px;color:#3c3c3c;right:508.70px;">130 Retiros</div>
<div class="a t" style="top:274.14px;font-size:6.4px;color:#3c3c3c;left:137px;">Analista de Datos</div>
<div class="a t" style="top:274.14px;font-size:6.4px;color:#3c3c3c;right:508.70px;">116 Retiros</div>
<div class="a t" style="top:288.72px;font-size:6.4px;color:#3c3c3c;left:137px;">Farmacéutico</div>
<div class="a t" style="top:288.72px;font-size:6.4px;color:#3c3c3c;right:508.70px;">83 Retiros</div>
<div class="a t" style="top:303.30px;font-size:6.4px;color:#3c3c3c;left:137px;">Fisioterapeuta</div>
<div class="a t" style="top:303.30px;font-size:6.4px;color:#e6f7fa;right:508.70px;">80 Retiros</div>
<div class="a t" style="top:328.29px;font-size:8.4px;color:#1c94a7;letter-spacing:0.007px;left:128.5px;">Prom Deserciones</div>
<div class="a t" style="top:338.28px;font-size:6.4px;color:#333;letter-spacing:-0.045px;left:128.5px;">Por Cargo del Empleado</div>
<div class="a t" style="top:327.21px;font-size:19.6px;color:#262833;font-weight:bold;letter-spacing:-0.234px;left:214px;-webkit-text-stroke:.5px;">155</div>
<div class="a t" style="top:135.89px;font-size:8.4px;color:#2a2a2a;letter-spacing:0.033px;left:297px;">Número de Deserciones</div>
<div class="a t" style="top:146.08px;font-size:6.4px;color:#2e2e2e;letter-spacing:-0.055px;left:297px;-webkit-text-stroke:.28px;">Por Género</div>
<div class="a t" style="top:172.75px;font-size:6.2px;color:#2e2e2e;letter-spacing:0.023px;left:297px;">Deserciones Femeninas</div>
<div class="a t" style="top:183.98px;font-size:7.7px;color:#1c94a7;letter-spacing:-0.297px;left:394.2px;">37%</div>
<div class="a t" style="top:199.05px;font-size:6.2px;color:#2e2e2e;letter-spacing:0.043px;left:297px;">Deserciones Masculinas</div>
<div class="a t" style="top:210.48px;font-size:7.7px;color:#f83f69;letter-spacing:-0.297px;left:394.2px;">63%</div>
<div class="a t" style="top:135.89px;font-size:8.4px;color:#2a2a2a;letter-spacing:0.033px;left:459.3px;">Número de Deserciones</div>
<div class="a t" style="top:146.08px;font-size:6.4px;color:#2e2e2e;letter-spacing:-0.041px;left:459.3px;-webkit-text-stroke:.28px;">Por Género y Grupo Etario</div>
<div class="a t" style="top:136.09px;font-size:8.4px;color:#333;letter-spacing:0.031px;left:638px;">Femenino</div>
<div class="a t" style="top:136.09px;font-size:8.4px;color:#333;letter-spacing:0.087px;left:691px;">Masculino</div>
<div class="a t" style="top:201.21px;font-size:5.7px;color:#444;left:328.00px;width:300px;text-align:center;">130</div>
<div class="a t" style="top:196.32px;font-size:5.7px;color:#444;left:348.00px;width:300px;text-align:center;">212</div>
<div class="a t" style="top:225.17px;font-size:5.7px;color:#222;font-weight:bold;left:338.30px;width:300px;text-align:center;">18-25</div>
<div class="a t" style="top:190.41px;font-size:5.7px;color:#444;left:384.00px;width:300px;text-align:center;">311</div>
<div class="a t" style="top:176.02px;font-size:5.7px;color:#444;left:404.00px;width:300px;text-align:center;">552</div>
<div class="a t" style="top:225.17px;font-size:5.7px;color:#222;font-weight:bold;left:394.30px;width:300px;text-align:center;">26-35</div>
<div class="a t" style="top:188.44px;font-size:5.7px;color:#444;left:440.00px;width:300px;text-align:center;">344</div>
<div class="a t" style="top:174.47px;font-size:5.7px;color:#444;left:460.00px;width:300px;text-align:center;">578</div>
<div class="a t" style="top:225.17px;font-size:5.7px;color:#222;font-weight:bold;left:450.30px;width:300px;text-align:center;">36-45</div>
<div class="a t" style="top:187.07px;font-size:5.7px;color:#444;left:496.00px;width:300px;text-align:center;">367</div>
<div class="a t" style="top:174.83px;font-size:5.7px;color:#444;left:516.00px;width:300px;text-align:center;">572</div>
<div class="a t" style="top:225.17px;font-size:5.7px;color:#222;font-weight:bold;left:506.30px;width:300px;text-align:center;">46-55</div>
<div class="a t" style="top:200.92px;font-size:5.7px;color:#444;left:552.00px;width:300px;text-align:center;">135</div>
<div class="a t" style="top:192.08px;font-size:5.7px;color:#444;left:572.00px;width:300px;text-align:center;">283</div>
<div class="a t" style="top:225.17px;font-size:5.7px;color:#222;font-weight:bold;left:562.30px;width:300px;text-align:center;">56 ó Más</div>
<div class="a t" style="top:250.09px;font-size:8.4px;color:#2a2a2a;letter-spacing:0.039px;left:297px;">Nivel de Deserción</div>
<div class="a t" style="top:260.28px;font-size:6.4px;color:#2e2e2e;letter-spacing:0.006px;left:297px;-webkit-text-stroke:.28px;">Por Distancia al Trabajo</div>
<div class="a t" style="top:303.45px;font-size:6.2px;color:#444;left:302px;">510</div>
<div class="a t" style="top:303.45px;font-size:6.2px;color:#444;left:319.5px;">Lejos</div>
<div class="a t" style="top:315.95px;font-size:6.2px;color:#444;left:302px;">828</div>
<div class="a t" style="top:315.95px;font-size:6.2px;color:#444;left:319.5px;">Muy Lejos</div>
<div class="a t" style="top:328.45px;font-size:6.2px;color:#444;left:302px;">2,146</div>
<div class="a t" style="top:328.45px;font-size:6.2px;color:#444;left:319.5px;">Cerca</div>
<div class="a t" style="top:250.09px;font-size:8.4px;color:#2a2a2a;letter-spacing:0.039px;left:459.3px;">Deserciones Totales</div>
<div class="a t" style="top:260.28px;font-size:6.4px;color:#2e2e2e;letter-spacing:0.012px;left:459.3px;-webkit-text-stroke:.28px;">Por Nivel Educativo</div>
<div class="a t" style="top:277.30px;font-size:6.5px;color:#444;right:270.50px;">Doctorado</div>
<div class="a t" style="top:277.89px;font-size:5.8px;color:#444;left:517.7836px;">108</div>
<div class="a t" style="top:286.86px;font-size:6.5px;color:#444;right:270.50px;">Bachiller</div>
<div class="a t" style="top:287.45px;font-size:5.8px;color:#444;left:536.4984px;">352</div>
<div class="a t" style="top:296.42px;font-size:6.5px;color:#444;right:270.50px;">Maestría</div>
<div class="a t" style="top:297.01px;font-size:5.8px;color:#444;left:540.5635px;">405</div>
<div class="a t" style="top:305.98px;font-size:6.5px;color:#444;right:270.50px;">Especialización</div>
<div class="a t" style="top:306.57px;font-size:5.8px;color:#444;left:545.6256999999999px;">471</div>
<div class="a t" style="top:315.54px;font-size:6.5px;color:#444;right:270.50px;">Profesional</div>
<div class="a t" style="top:316.13px;font-size:5.8px;color:#444;left:560.2754px;">662</div>
<div class="a t" style="top:325.10px;font-size:6.5px;color:#444;right:270.50px;">Técnico</div>
<div class="a t" style="top:325.69px;font-size:5.8px;color:#444;left:566.4114px;">742</div>
<div class="a t" style="top:334.66px;font-size:6.5px;color:#444;right:270.50px;">Tecnólogo</div>
<div class="a t" style="top:335.25px;font-size:5.8px;color:#444;left:566.5648px;">744</div>
<div class="a t" style="top:250.09px;font-size:8.4px;color:#2a2a2a;letter-spacing:0.110px;left:621.3px;">Relación Total</div>
<div class="a t" style="top:260.62px;font-size:6px;color:#444;letter-spacing:-0.103px;left:621.3px;">3,484</div>
<div class="a t" style="top:289.88px;font-size:9px;color:#f83f69;letter-spacing:-0.337px;left:553.03px;width:300px;text-align:center;">Deserción</div>
<div class="a t" style="top:301.31px;font-size:5.9px;color:#333;letter-spacing:0.188px;left:554.49px;width:300px;text-align:center;"><b>Total</b> por Área</div>
<div class="a t" style="top:279.70px;font-size:6.5px;color:#444;left:625px;">Admin</div>
<div class="a t" style="top:286.51px;font-size:7.9px;color:#444;letter-spacing:-0.290px;left:625px;">1,587</div>
<div class="a t" style="top:300.40px;font-size:6.5px;color:#444;left:625px;">Financiera</div>
<div class="a t" style="top:307.21px;font-size:7.9px;color:#1c94a7;letter-spacing:-0.391px;left:625px;">384</div>
<div class="a t" style="top:321.10px;font-size:6.5px;color:#444;left:625px;">Servicios</div>
<div class="a t" style="top:327.91px;font-size:7.9px;color:#f83f69;letter-spacing:-0.430px;left:625px;">1,513</div>
<div class="a t" style="top:367.50px;font-size:8.5px;color:#444;letter-spacing:0.181px;left:10px;">Este <b class="teal fb">Dashboard</b> se fundamenta en una fuente de datos de ejemplo y <b class="fb">representa una aproximación</b></div>
<div class="a t" style="top:377.60px;font-size:8.5px;color:#444;letter-spacing:0.189px;left:10px;"><b class="fb">a casos del mundo real.</b> Cualquier parecido con la realidad es sólo una <span class="pink">coincidencia</span>.</div>
<div class="a t" style="top:367.50px;font-size:8.5px;color:#444;letter-spacing:0.222px;right:12.78px;">Este <b class="teal fb">Dashboard</b> se fundamenta en una fuente de datos de ejemplo y</div>
<div class="a t" style="top:377.60px;font-size:8.5px;color:#333;font-weight:bold;letter-spacing:-0.026px;right:13.03px;">representa una aproximación a casos del mundo real.</div>
<div class="a t" style="top:398.84px;font-size:10px;color:#b5b5b5;left:12.3px;">‹</div>
<div class="a t" style="top:398.84px;font-size:10px;color:#b5b5b5;left:28.3px;">›</div>
<div class="a t" style="top:400.31px;font-size:7.2px;color:#fff;letter-spacing:-0.256px;left:-80.33px;width:300px;text-align:center;">Datos</div>
<div class="a t" style="top:400.31px;font-size:7.2px;color:#fff;letter-spacing:-0.160px;left:-47.08px;width:300px;text-align:center;">Analisis</div>
<div class="a t" style="top:400.21px;font-size:6.6px;color:#1f3d2c;font-weight:bold;letter-spacing:0.005px;left:-5.00px;width:300px;text-align:center;">Dashboard</div>
<div class="a t" style="top:398.41px;font-size:10.5px;color:#333;left:42.30px;width:300px;text-align:center;">+</div>
<div class="a t" style="top:418.54px;font-size:6.8px;color:#cfcfcf;left:44px;">Buscar</div>
<div class="a t" style="top:418.91px;font-size:6.6px;color:#fff;letter-spacing:-0.184px;left:543.5px;">25°C</div>
<div class="a t" style="top:418.91px;font-size:6.6px;color:#fff;letter-spacing:0.138px;left:562.8px;">Parc. nublado</div>
<div class="a t" style="top:420.07px;font-size:5px;color:#fff;letter-spacing:-0.139px;left:691px;">ESP</div>
<div class="a t" style="top:413.84px;font-size:6.1px;color:#f4f4f4;letter-spacing:-0.069px;left:572.97px;width:300px;text-align:center;-webkit-text-stroke:0;">01:18 AM</div>
<div class="a t" style="top:423.14px;font-size:6.1px;color:#f4f4f4;letter-spacing:0.070px;left:573.53px;width:300px;text-align:center;-webkit-text-stroke:0;">07/10/2023</div>
</body>
</html>
